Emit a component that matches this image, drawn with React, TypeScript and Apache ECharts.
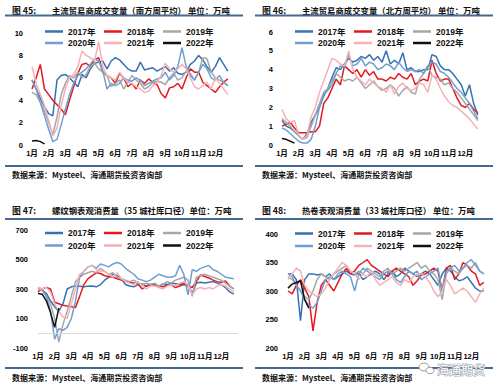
import { useEffect, useRef } from 'react';
import * as echarts from 'echarts';

const YEARS = ['2017年', '2018年', '2019年', '2020年', '2021年', '2022年'];
const COLORS = ['#3572b0', '#e3191f', '#a6a6a6', '#6f9fd2', '#f5b1b4', '#111111'];
const MONTHS = ['1月', '2月', '3月', '4月', '5月', '6月', '7月', '8月', '9月', '10月', '11月', '12月'];

// 图45 主流贸易商成交变量（南方周平均）
const s45_2017 = [5.8,5.0,4.2,3.4, 2.8,2.6,5.8,6.2, 6.3,6.0,5.6,5.2, 6.3,6.0,6.8,7.3, 7.4,7.5,6.8,7.5, 7.8,7.6,7.2,6.8, 6.6,6.6,7.4,6.7, 6.8,6.9,6.6,6.8, 7.0,6.6,6.9,6.4, 6.3,6.5,7.2,7.5, 8.0,7.6,7.0,6.5, 7.0,7.8,7.2,6.6];
const s45_2018 = [5.0,6.0,7.2,5.0, 4.5,4.0,3.6,3.2, 2.7,4.0,5.2,6.4, 7.2,7.3,7.0,7.6, 7.8,6.5,6.2,6.0, 5.5,6.4,6.0,5.2, 5.5,5.0,5.8,5.5, 5.9,5.6,5.4,4.6, 4.2,5.1,5.2,5.5, 5.0,6.0,6.8,6.5, 6.5,5.6,5.3,5.0, 4.7,5.2,5.6,5.9];
const s45_2019 = [4.7,4.5,3.8,3.0, 2.0,0.9,2.5,4.5, 5.5,6.2,6.0,6.5, 6.0,6.3,7.0,7.3, 6.8,6.5,6.2,5.2, 5.5,5.8,5.0,5.6, 6.2,5.8,5.5,5.0, 5.2,5.6,5.7,5.6, 5.4,6.0,6.4,5.8, 6.0,6.6,6.4,5.8, 6.5,7.8,7.7,6.5, 6.0,5.8,5.6,5.3];
const s45_2020 = [5.8,5.0,3.8,2.6, 1.4,0.3,0.5,1.8, 3.2,4.5,5.5,6.2, 6.5,6.8,7.2,7.7, 7.5,6.6,5.0,5.5, 5.3,5.5,6.0,5.8, 5.7,6.0,5.8,5.3, 5.5,5.7,5.9,6.0, 6.5,5.8,6.2,7.0, 8.7,7.0,6.2,5.8, 6.5,7.2,6.8,6.0, 5.8,6.2,5.6,5.3];
const s45_2021 = [7.0,5.5,4.5,3.5, 2.2,0.8,1.5,3.5, 5.0,6.0,6.3,7.0, 8.4,8.0,7.8,7.5, 9.2,7.0,6.2,6.0, 5.8,6.5,6.0,5.6, 5.5,5.2,5.0,4.7, 4.8,5.3,5.6,6.2, 7.3,6.8,6.5,6.8, 7.2,6.8,6.0,5.2, 5.0,5.3,5.6,5.0, 6.0,5.5,5.0,4.5];
const s45_2022 = [0.35,0.4,0.3,0.1];

// 图46 主流贸易商成交变量（北方周平均）
const n46_2017 = [1.3,1.0,0.9,0.7, 0.5,0.3,0.6,1.2, 1.6,2.0,2.6,3.0, 3.6,4.1,4.0,4.3, 4.6,4.4,4.5,4.7, 4.6,4.8,4.5,4.7, 4.4,5.0,4.3,4.5, 4.3,4.9,4.0,4.1, 3.9,3.9,4.0,4.0, 4.8,4.7,4.2,4.0, 4.0,3.8,3.5,3.2, 2.6,3.2,2.2,1.6];
const n46_2018 = [1.0,1.1,1.2,0.9, 0.65,0.65,0.65,0.7, 0.7,1.0,2.2,2.5, 3.0,3.5,3.2,4.2, 4.0,3.8,4.0,3.6, 4.0,3.7,3.9,3.5, 3.5,3.4,3.6,3.5, 3.8,3.6,3.5,3.8, 3.2,3.4,3.5,3.4, 4.5,3.8,3.4,3.5, 3.5,3.0,2.5,2.1, 2.0,2.2,1.9,1.7];
const n46_2019 = [1.4,1.2,1.0,0.7, 0.5,0.3,0.4,1.0, 1.6,2.2,2.8,3.0, 3.4,3.8,3.6,3.4, 3.5,3.4,3.6,3.3, 3.0,3.2,3.4,3.1, 2.9,3.0,3.2,3.0, 2.6,2.9,3.1,2.8, 2.7,3.5,3.8,4.2, 3.7,3.6,3.5,3.2, 3.3,3.0,2.8,2.5, 2.2,1.9,1.6,1.3];
const n46_2020 = [0.9,0.8,0.6,0.4, 0.2,0.1,0.1,0.3, 1.0,2.0,2.7,2.9, 3.2,3.8,4.2,4.1, 4.8,4.2,4.3,4.6, 4.2,4.4,4.3,4.0, 4.1,4.3,4.2,4.0, 4.4,4.1,3.9,4.0, 3.9,4.0,3.8,4.2, 4.4,4.3,3.9,3.8, 3.6,3.3,3.0,2.8, 2.5,2.2,1.8,1.4];
const n46_2021 = [1.9,1.4,1.2,1.3, 0.5,0.3,0.5,1.5, 2.0,2.8,3.4,4.0, 4.6,4.5,4.3,4.2, 5.0,4.0,3.6,3.4, 3.2,3.5,3.3,3.1, 3.0,2.8,3.2,2.7, 3.1,3.3,3.0,2.9, 3.0,3.3,3.2,2.8, 3.7,3.5,3.0,2.6, 2.3,2.1,2.0,1.8, 1.6,1.4,1.1,0.85];
const n46_2022 = [0.35,0.3,0.2,0.1];

// 图47 螺纹钢表观消费量（35城社库口径）
const r47_2017 = [300,290,270,220, 180,150,200,300, 315,320,318,315, 318,320,315,330, 360,380,400,390, 370,330,320,315, 330,335,320,330, 325,320,335,330, 340,335,330,340, 330,270,340,345, 340,345,350,340, 330,310,280,265];
const r47_2018 = [280,300,310,300, 210,200,190,185, 180,175,250,330, 370,390,410,405, 390,385,380,370, 360,350,345,340, 335,300,320,330, 330,320,315,325, 330,310,320,330, 320,310,350,395, 385,375,360,350, 345,355,320,300];
const r47_2019 = [300,290,250,200, 100,-60,60,150, 250,350,380,400, 410,420,410,440, 420,400,410,380, 370,360,350,360, 340,330,340,330, 340,320,330,350, 340,360,370,380, 360,250,380,390, 400,390,380,370, 360,340,320,300];
const r47_2020 = [310,300,250,150, -40,30,20,40, 100,220,380,420, 450,460,440,470, 460,450,470,480, 470,440,420,400, 370,360,350,360, 380,400,390,380, 380,390,460,400, 260,430,420,440, 450,460,430,420, 400,380,375,370];
const r47_2021 = [310,300,310,280, 200,150,110,100, 200,300,400,420, 450,460,430,420, 420,400,380,410, 370,350,340,330, 350,320,300,320, 320,310,300,320, 330,320,340,350, 330,260,300,310, 300,310,300,320, 330,320,300,280];
const r47_2022 = [270,265,220,140,40,170];

// 图48 热卷表观消费量（33城社库口径）
const h48_2017 = [330,330,320,248, 320,330,330,328, 330,325,330,320, 325,330,335,330, 328,332,320,325, 330,335,330,320, 330,335,325,330, 340,335,330,325, 330,335,330,320, 310,330,340,335, 325,318,320,325, 315,305,300,300];
const h48_2018 = [300,295,310,320, 305,290,230,280, 310,320,310,300, 315,330,340,330, 335,345,350,355, 345,340,335,330, 325,335,340,335, 330,325,310,318, 328,330,335,340, 335,300,340,345, 320,330,350,345, 335,330,310,315];
const h48_2019 = [325,320,310,300, 290,285,300,320, 330,325,320,330, 335,340,345,335, 330,335,330,340, 335,330,325,335, 340,330,335,340, 335,340,345,350, 340,345,335,330, 320,285,330,340, 335,330,340,345, 340,350,335,330];
const h48_2020 = [330,325,310,300, 285,275,270,280, 300,320,325,320, 330,335,330,325, 300,330,340,335, 330,325,320,330, 335,330,320,315, 325,335,330,335, 320,325,330,335, 340,300,335,340, 345,335,340,350, 355,345,335,330];
const h48_2021 = [320,330,340,335, 310,300,295,290, 295,305,320,330, 340,350,345,335, 330,320,330,325, 335,320,310,315, 320,325,315,310, 320,315,325,330, 330,325,315,300, 290,300,320,310, 295,300,305,300, 290,280,295,305];
const h48_2022 = [305,312,315,318,285,270];

const FIGS = ['图 45:', '图 46:', '图 47:', '图 48:'];
const TITLES = [
  '主流贸易商成交变量（南方周平均） 单位：万吨',
  '主流贸易商成交变量（北方周平均） 单位：万吨',
  '螺纹钢表观消费量（35 城社库口径）单位：万吨',
  '热卷表观消费量（33 城社库口径） 单位：万吨',
];
const SOURCE = '数据来源：Mysteel、海通期货投资咨询部';
const Y_MIN = [0, 0, -100, 200];
const Y_MAX = [10, 6, 700, 400];
const Y_STEP = [2, 1, 200, 50];
const PANEL_DATA = [
  [s45_2017, s45_2018, s45_2019, s45_2020, s45_2021, s45_2022],
  [n46_2017, n46_2018, n46_2019, n46_2020, n46_2021, n46_2022],
  [r47_2017, r47_2018, r47_2019, r47_2020, r47_2021, r47_2022],
  [h48_2017, h48_2018, h48_2019, h48_2020, h48_2021, h48_2022],
];

const LAYOUT = [
  { x: 0, header: 10, rule: 15.5, legendTop: 26, legendGap: 0.5, gridTop: 33, gridBottom: 145, footer: 166, source: 174.5, gridLeft: 32, yMargin: 9 },
  { x: 250, header: 10, rule: 15.5, legendTop: 26, legendGap: 0.5, gridTop: 32, gridBottom: 145, footer: 166, source: 174.5, gridLeft: 32, yMargin: 9 },
  { x: 0, header: 210, rule: 219, legendTop: 227.5, legendGap: 1.5, gridTop: 230, gridBottom: 348, footer: 368, source: 377, gridLeft: 38, yMargin: 10 },
  { x: 250, header: 210, rule: 219, legendTop: 228, legendGap: 1.5, gridTop: 234, gridBottom: 348, footer: 368, source: 377, gridLeft: 38, yMargin: 10 },
];
const LEGEND_COLS = [45, 104, 163];
const FONT = "'Liberation Sans', 'Noto Sans CJK SC', sans-serif";
const CJK = "'Noto Sans CJK SC', sans-serif";
const RULE = '#48698f';

export default function App() {
  const ref = useRef<HTMLDivElement>(null);
  useEffect(() => {
    if (!ref.current) return;
    const chart = echarts.init(ref.current, undefined, { renderer: 'svg' });
    const grid: any[] = [];
    const xAxis: any[] = [];
    const yAxis: any[] = [];
    const legend: any[] = [];
    const series: any[] = [];
    const graphic: any[] = [];

    LAYOUT.forEach((L, p) => {
      grid.push({ left: L.x + L.gridLeft, top: L.gridTop, width: 200, height: L.gridBottom - L.gridTop });
      xAxis.push({
        type: 'value', gridIndex: p, min: 0, max: 12, interval: 1,
        axisLine: { show: false }, axisTick: { show: false }, splitLine: { show: false },
        axisLabel: {
          formatter: (v: number) => MONTHS[v] ?? '', showMaxLabel: false,
          fontSize: 7.5, fontWeight: 'bold', color: '#000', margin: 5, fontFamily: FONT,
        },
      });
      yAxis.push({
        type: 'value', gridIndex: p, min: Y_MIN[p], max: Y_MAX[p], interval: Y_STEP[p],
        axisLine: { show: false }, axisTick: { show: false }, splitLine: { show: false },
        axisLabel: { fontSize: 7.5, fontWeight: 'bold', color: '#000', margin: L.yMargin, fontFamily: FONT },
      });
      LEGEND_COLS.forEach((cx, c) => {
        legend.push({
          orient: 'vertical', left: L.x + cx, top: L.legendTop, padding: 0,
          itemGap: L.legendGap, icon: 'rect', itemWidth: 18, itemHeight: 2.5,
          selectedMode: false, data: [YEARS[c], YEARS[c + 3]],
          textStyle: { fontSize: 8.5, fontWeight: 'bold', color: '#111', fontFamily: FONT, lineHeight: 11 },
        });
      });
      PANEL_DATA[p].forEach((vals, k) => {
        const s: any = {
          type: 'line', name: YEARS[k], xAxisIndex: p, yAxisIndex: p,
          data: vals.map((v, i) => [i / 4, v]),
          symbol: 'none', silent: true,
          lineStyle: { width: 1.5, color: COLORS[k] }, itemStyle: { color: COLORS[k] },
        };
        if (p === 2 && k === 0) {
          s.markLine = {
            silent: true, symbol: ['none', 'none'], label: { show: false },
            lineStyle: { color: '#d9d9d9', width: 1, type: 'solid' },
            data: [{ yAxis: 0 }],
          };
        }
        series.push(s);
      });
      graphic.push(
        { type: 'text', x: L.x + 12, y: L.header, style: { text: FIGS[p], fontSize: 8.8, fontWeight: 'bold', fill: '#111', fontFamily: CJK, verticalAlign: 'middle' } },
        { type: 'text', x: L.x + 52, y: L.header, style: { text: TITLES[p], fontSize: 8.4, fontWeight: 'bold', fill: '#111', fontFamily: CJK, verticalAlign: 'middle' } },
        { type: 'line', shape: { x1: L.x + 5, y1: L.rule, x2: L.x + 243, y2: L.rule }, style: { stroke: RULE, lineWidth: 2 } },
        { type: 'line', shape: { x1: L.x + 5, y1: L.footer, x2: L.x + 243, y2: L.footer }, style: { stroke: RULE, lineWidth: 2 } },
        { type: 'text', x: L.x + 12, y: L.source, style: { text: SOURCE, fontSize: 8, fontWeight: 'bold', fill: '#111', fontFamily: CJK, verticalAlign: 'middle' } },
      );
    });

    graphic.push(
      { type: 'ellipse', shape: { cx: 424, cy: 367, rx: 5, ry: 4 }, style: { fill: '#fff', stroke: '#9a9a9a', lineWidth: 1 }, z: 100 },
      { type: 'ellipse', shape: { cx: 430, cy: 370.5, rx: 4, ry: 3.2 }, style: { fill: '#fff', stroke: '#9a9a9a', lineWidth: 1 }, z: 100 },
      { type: 'text', x: 437, y: 369, z: 100, style: { text: '海通期货', fontSize: 12, fill: '#ffffff', stroke: '#9aa3ad', lineWidth: 1.2, fontFamily: CJK, verticalAlign: 'middle' } },
    );

    chart.setOption({
      animation: false,
      backgroundColor: '#ffffff',
      grid, xAxis, yAxis, legend, series, graphic,
    });
    return () => chart.dispose();
  }, []);
  return <div ref={ref} style={{ position: 'fixed', left: 0, top: 0, width: 500, height: 389 }} />;
}
